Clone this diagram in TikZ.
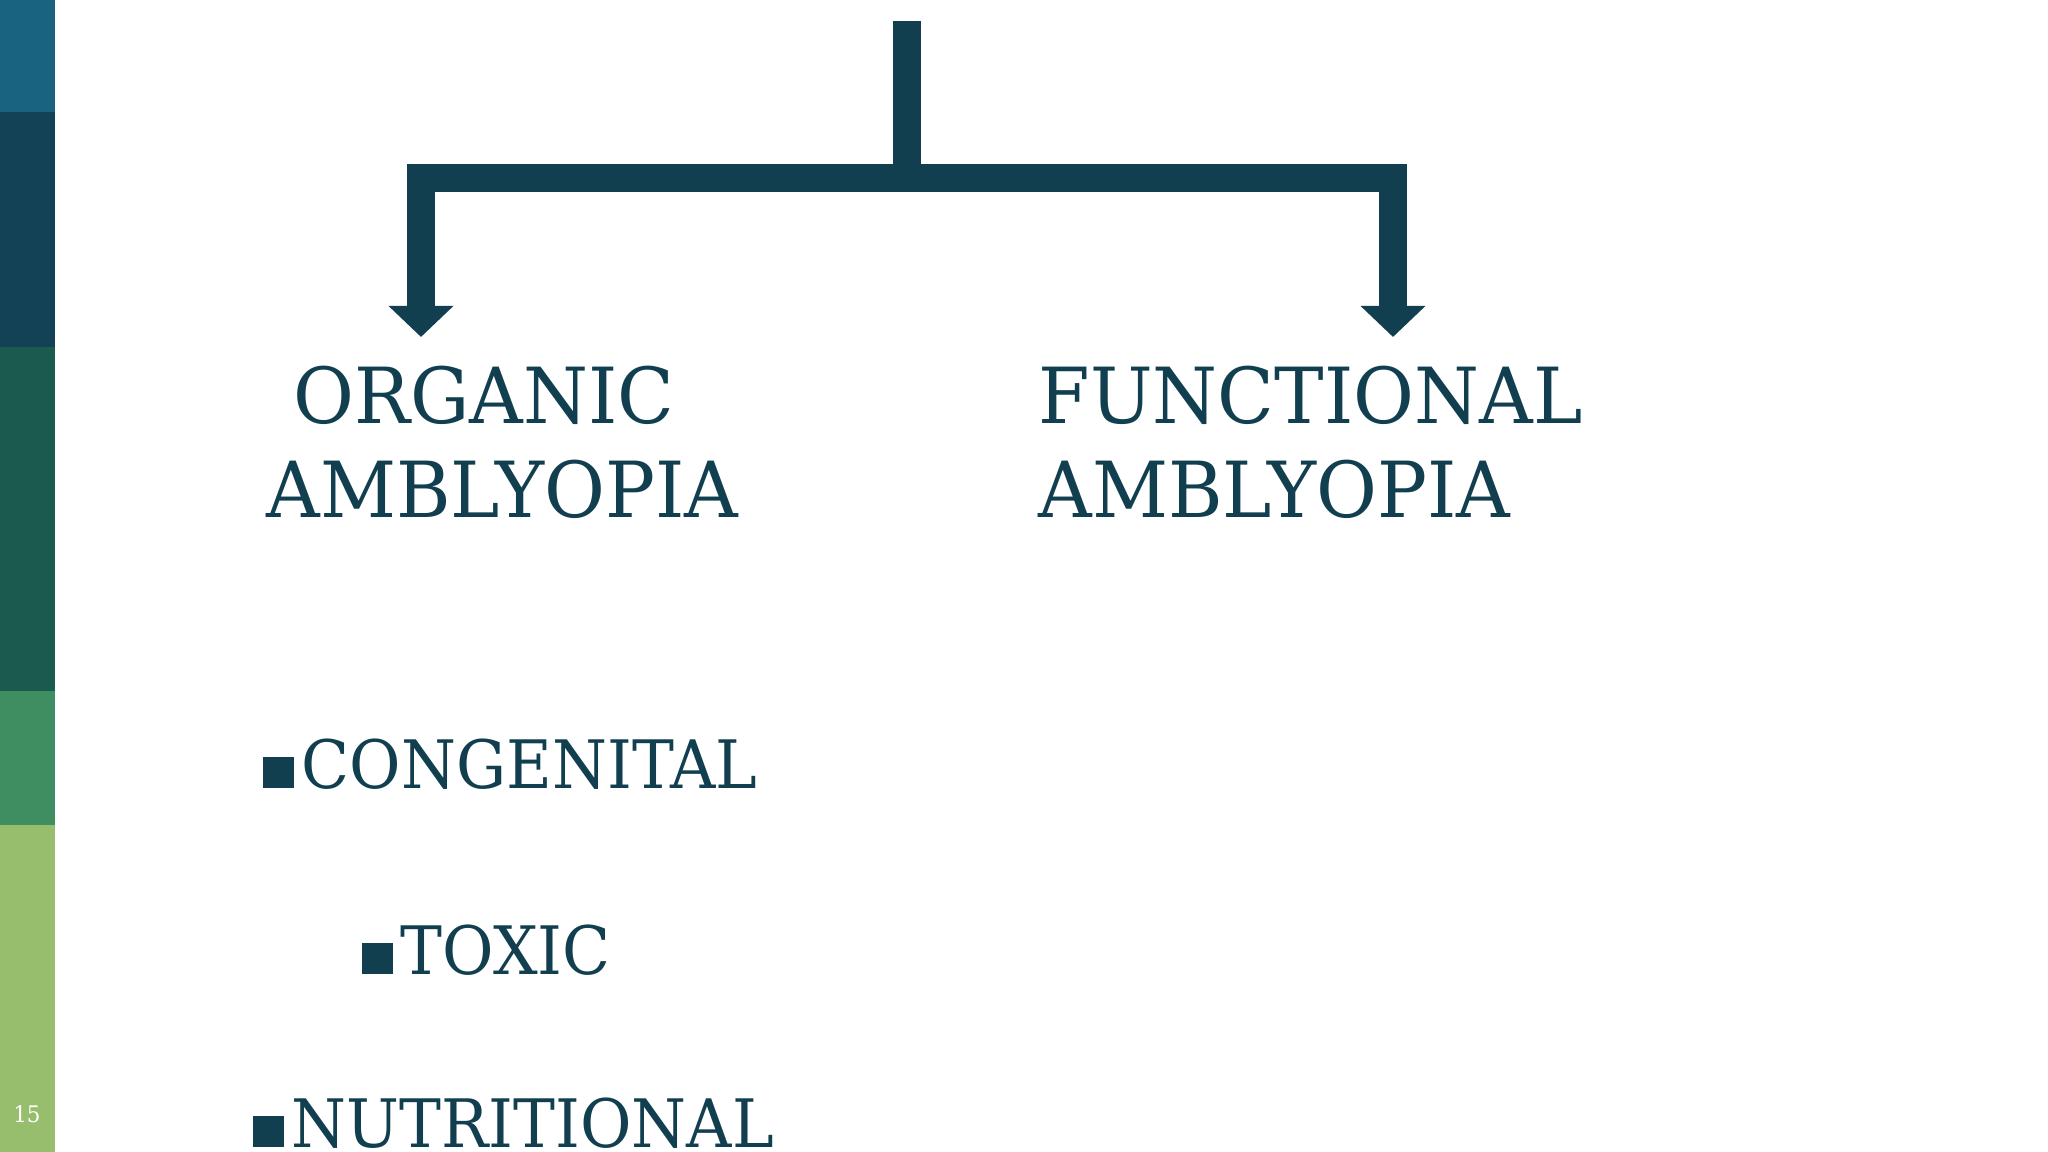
\documentclass[tikz,border=0pt]{standalone}
\usepackage{fontspec}
\setmainfont{DejaVu Serif}[FakeStretch=0.94]
\newfontfamily\headfont{DejaVu Serif}[FakeStretch=0.96]
\usetikzlibrary{arrows.meta}

\definecolor{darkteal}{HTML}{123F50}
\definecolor{barA}{HTML}{1A6380}
\definecolor{barB}{HTML}{134257}
\definecolor{barC}{HTML}{1B5A4F}
\definecolor{barD}{HTML}{3E8E62}
\definecolor{barE}{HTML}{97BE6C}

\tikzset{
  heading/.style={anchor=north west, inner sep=0pt, align=left, text=darkteal,
    font=\headfont\fontsize{22}{26.7}\selectfont},
  item/.style={anchor=base west, inner sep=0pt, text=darkteal,
    font=\fontsize{19}{23}\selectfont},
  branch/.style={draw=darkteal, line width=0.28cm},
  tip/.style={-{Triangle[width=0.63cm,length=0.31cm]}}
}

\newcommand{\sqbullet}{\rule{0.31cm}{0.31cm}\hspace{0.08cm}}

\begin{document}
\begin{tikzpicture}[x=0.01cm, y=-0.01cm]
			\useasboundingbox (0,0) rectangle (2048,1152);
			
			% side band
			\fill[barA] (0,0) rectangle (55,112);
			\fill[barB] (0,112) rectangle (55,347);
			\fill[barC] (0,347) rectangle (55,691);
			\fill[barD] (0,691) rectangle (55,825);
			\fill[barE] (0,825) rectangle (55,1152);
			\node (pagenum)[text=white, inner sep=0pt, font=\fontsize{6.5}{8}\selectfont] 
			at (27,1114) {15};
			
			\node (organic)[heading] at (266,365) {
				\hspace*{0.27cm}ORGANIC \\ AMBLYOPIA
			};
			
			\node (functional)[heading] at (1038,365) {
				FUNCTIONAL \\ AMBLYOPIA
			};
			
			\node (congenital)[item] at (262,788) {\sqbullet CONGENITAL};
			\node (toxic)[item] at (361,974) {\sqbullet TOXIC};
			\node (nutritional)[item] at (252,1147) {\sqbullet NUTRITIONAL};
			
			\coordinate (root) at (907,21);
			\coordinate (split) at (907,178);
			\coordinate (ltip) at (421,337);
			\coordinate (rtip) at (1393,337);
			
			\draw[branch] (root) -- (split);
			\draw[branch, tip] (split) -| (ltip);
			\draw[branch, tip] (split) -| (rtip);
		\end{tikzpicture}
\end{document}
